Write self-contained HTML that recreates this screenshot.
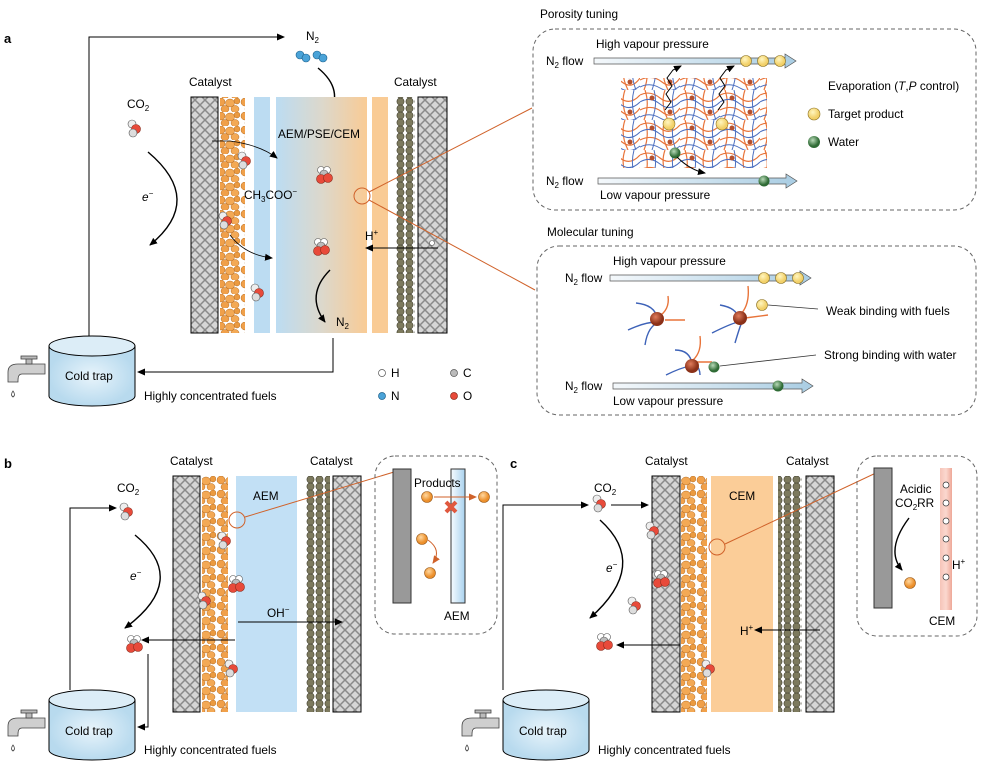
<!DOCTYPE html>
<html><head><meta charset="utf-8"><style>
html,body{margin:0;padding:0;background:#fff}
svg{display:block;font-family:"Liberation Sans",sans-serif}
</style></head><body>
<svg width="983" height="772" viewBox="0 0 983 772" xmlns="http://www.w3.org/2000/svg" font-size="11.8" fill="#000">
<defs>
<pattern id="hatch" width="10" height="10" patternUnits="userSpaceOnUse">
<rect width="10" height="10" fill="#d6d6d6"/>
<path d="M0 5 L5 0 M5 10 L10 5 M5 0 L10 5 M0 5 L5 10" stroke="#8a8a8a" stroke-width="1.5" fill="none"/>
</pattern>
<pattern id="parts" width="24" height="14" patternUnits="userSpaceOnUse">
<rect width="24" height="14" fill="#fff"/>
<ellipse cx="5" cy="4" rx="4" ry="4" fill="#f0a04a" stroke="#b56a20" stroke-width=".5"/>
<ellipse cx="14" cy="5" rx="4.5" ry="4" fill="#f3a955" stroke="#b56a20" stroke-width=".5"/>
<ellipse cx="21" cy="3" rx="3" ry="3" fill="#eb9a40" stroke="#b56a20" stroke-width=".5"/>
<ellipse cx="9" cy="11" rx="4" ry="3.5" fill="#f0a04a" stroke="#b56a20" stroke-width=".5"/>
<ellipse cx="19" cy="11" rx="4" ry="3.5" fill="#f3a955" stroke="#b56a20" stroke-width=".5"/>
</pattern>
<pattern id="balls" width="9" height="7" patternUnits="userSpaceOnUse">
<rect width="9" height="7" fill="#fff"/>
<circle cx="4.5" cy="3.5" r="3.6" fill="#7d7a5e" stroke="#3e3c2a" stroke-width=".6"/>
</pattern>
<pattern id="net" width="40" height="30" patternUnits="userSpaceOnUse">
<path d="M0 5 Q10 0 20 8 T40 5 M0 20 Q12 14 22 22 T40 18 M5 0 Q10 15 4 30 M25 0 Q20 14 28 30" stroke="#e8743a" stroke-width="1.2" fill="none"/>
<path d="M0 12 Q10 6 20 14 T40 12 M0 27 Q10 22 20 28 T40 26 M14 0 Q18 14 12 30 M34 0 Q30 15 36 30" stroke="#4c6fc0" stroke-width="1" fill="none"/>
<circle cx="12" cy="8" r="2.5" fill="#b4502e"/><circle cx="30" cy="22" r="2.5" fill="#b4502e"/>
</pattern>
<linearGradient id="mem" x1="0" x2="1"><stop offset="0" stop-color="#bcdcf2"/><stop offset=".5" stop-color="#dcd8cc"/><stop offset="1" stop-color="#f9cb95"/></linearGradient>
<linearGradient id="flow" x1="0" x2="1"><stop offset="0" stop-color="#f4f8fb"/><stop offset="1" stop-color="#a9cde3"/></linearGradient>
<linearGradient id="aemv" x1="0" x2="1"><stop offset="0" stop-color="#f6fbff"/><stop offset="1" stop-color="#a9d2ee"/></linearGradient>
<linearGradient id="cemv" x1="0" x2="1"><stop offset="0" stop-color="#f6c4b8"/><stop offset=".5" stop-color="#fbd8cf"/><stop offset="1" stop-color="#eea898"/></linearGradient>
<radialGradient id="yel" cx=".4" cy=".35"><stop offset="0" stop-color="#fff6c0"/><stop offset="1" stop-color="#f2d068"/></radialGradient>
<radialGradient id="grn" cx=".4" cy=".35"><stop offset="0" stop-color="#b8dab8"/><stop offset="1" stop-color="#2f6b35"/></radialGradient>
<radialGradient id="org" cx=".4" cy=".35"><stop offset="0" stop-color="#ffd8a0"/><stop offset="1" stop-color="#ec8f2a"/></radialGradient>
<radialGradient id="brn" cx=".4" cy=".35"><stop offset="0" stop-color="#e07c5c"/><stop offset="1" stop-color="#8a3018"/></radialGradient>
<radialGradient id="cyl" cx=".5" cy=".5"><stop offset="0" stop-color="#e8f4fb"/><stop offset="1" stop-color="#b8daee"/></radialGradient>
<marker id="ar" markerWidth="8" markerHeight="8" refX="7" refY="4" orient="auto" markerUnits="userSpaceOnUse"><path d="M0 0.5 L8 4 L0 7.5 Z" fill="#000"/></marker>
<marker id="aro" markerWidth="8" markerHeight="8" refX="7" refY="4" orient="auto" markerUnits="userSpaceOnUse"><path d="M0 0.5 L8 4 L0 7.5 Z" fill="#d0622a"/></marker>
<g id="trap">
<path d="M0 10 L0 60 A43 10 0 0 0 86 60 L86 10" fill="url(#cyl)" stroke="#000" stroke-width="1"/>
<ellipse cx="43" cy="10" rx="43" ry="10" fill="#dcedf7" stroke="#000"/>
</g>
<g id="tap">
<path d="M0 14 Q0 6 10 6 L37 6 L37 16 L14 16 Q10 16 10 22 L10 24 L0 24 Z" fill="#cfcfcf" stroke="#444" stroke-width=".8"/>
<rect x="18" y="0" width="6" height="6" fill="#bbb" stroke="#444" stroke-width=".8"/>
<rect x="13" y="-2" width="16" height="3" fill="#bbb" stroke="#444" stroke-width=".8"/>
<path d="M5 33 q3 4 0 6 q-3 -2 0 -6z" fill="#fff" stroke="#444" stroke-width=".8"/>
</g>
<g id="mol"><circle cx="-3" cy="-4" r="4" fill="#eee" stroke="#555" stroke-width=".6"/><circle cx="1" cy="1" r="4.5" fill="#e84a3a" stroke="#8a2a1a" stroke-width=".6"/><circle cx="-2" cy="5" r="4" fill="#ddd" stroke="#555" stroke-width=".6"/></g>
<g id="acet"><circle cx="-3" cy="-6" r="3.5" fill="#fff" stroke="#555" stroke-width=".6"/><circle cx="3" cy="-6" r="3.5" fill="#fff" stroke="#555" stroke-width=".6"/><circle cx="0" cy="-2" r="4" fill="#bbb" stroke="#555" stroke-width=".6"/><circle cx="-3" cy="3" r="4.5" fill="#e84a3a" stroke="#8a2a1a" stroke-width=".6"/><circle cx="4" cy="2" r="4.5" fill="#e84a3a" stroke="#8a2a1a" stroke-width=".6"/></g>
</defs>

<!-- ============ PANEL A ============ -->
<text x="4" y="43" font-weight="bold" font-size="13">a</text>
<path d="M89 337 V37 H284" fill="none" stroke="#000" marker-end="url(#ar)"/>
<text x="306" y="40">N<tspan font-size="8" dy="3">2</tspan></text>
<circle cx="300" cy="55" r="4" fill="#4aa3d8" stroke="#1c5f8a" stroke-width=".6"/><circle cx="306" cy="58" r="4" fill="#4aa3d8" stroke="#1c5f8a" stroke-width=".6"/>
<circle cx="317" cy="55" r="4" fill="#4aa3d8" stroke="#1c5f8a" stroke-width=".6"/><circle cx="323" cy="58" r="4" fill="#4aa3d8" stroke="#1c5f8a" stroke-width=".6"/>
<path d="M318 68 Q345 90 328 116" fill="none" stroke="#000" stroke-width="1.4" marker-end="url(#ar)"/>
<text x="189" y="86">Catalyst</text><text x="394" y="86">Catalyst</text>
<text x="127" y="108">CO<tspan font-size="8" dy="3">2</tspan></text>
<use href="#mol" x="135" y="128"/>
<path d="M148 152 Q205 200 150 245" fill="none" stroke="#000" stroke-width="1.4" marker-end="url(#ar)"/>
<text x="142" y="201" font-style="italic">e<tspan font-size="8" dy="-5">−</tspan></text>

<rect x="191" y="97" width="27" height="236" fill="url(#hatch)" stroke="#000"/>
<rect x="220" y="97" width="25" height="236" fill="url(#parts)"/>
<rect x="254" y="97" width="16" height="236" fill="#bcdcf2"/>
<rect x="276" y="97" width="91" height="236" fill="url(#mem)"/>
<rect x="372" y="97" width="16" height="236" fill="#f9cb95"/>
<rect x="396" y="97" width="19" height="236" fill="url(#balls)"/>
<rect x="418" y="97" width="29" height="236" fill="url(#hatch)" stroke="#000"/>
<text x="278" y="138">AEM/PSE/CEM</text>
<use href="#mol" x="245" y="160"/><use href="#mol" x="226" y="220"/><use href="#mol" x="258" y="292"/>
<path d="M212 141 H230 Q260 145 277 158" fill="none" stroke="#000" stroke-width=".8" marker-end="url(#ar)"/>
<path d="M230 235 Q245 255 272 258" fill="none" stroke="#000" stroke-width=".8" marker-end="url(#ar)"/>
<use href="#acet" x="324" y="176"/><use href="#acet" x="321" y="248"/>
<text x="244" y="199">CH<tspan font-size="8" dy="3">3</tspan><tspan dy="-3">COO</tspan><tspan font-size="8" dy="-5">−</tspan></text>
<circle cx="362" cy="196" r="8" fill="none" stroke="#d0622a" stroke-width="1"/>
<path d="M369 192 L532 108 M369 200 L535 290" stroke="#d0622a" stroke-width="1"/>
<text x="365" y="240">H<tspan font-size="8" dy="-5">+</tspan></text>
<path d="M438 248 H366" stroke="#000" marker-end="url(#ar)"/>
<circle cx="432" cy="243" r="2.5" fill="#fff" stroke="#555" stroke-width=".6"/>
<path d="M330 270 Q305 295 325 322" fill="none" stroke="#000" stroke-width="1.4" marker-end="url(#ar)"/>
<text x="336" y="326">N<tspan font-size="8" dy="3">2</tspan></text>
<path d="M333 338 V372 H138" fill="none" stroke="#000" marker-end="url(#ar)"/>
<use href="#trap" x="49" y="336"/>
<text x="65" y="380">Cold trap</text>
<use href="#tap" x="8" y="358"/>
<text x="144" y="400">Highly concentrated fuels</text>
<circle cx="382" cy="373" r="3.5" fill="#fff" stroke="#555" stroke-width=".7"/><text x="391" y="377">H</text>
<circle cx="454" cy="373" r="3.5" fill="#bbb" stroke="#555" stroke-width=".7"/><text x="463" y="377">C</text>
<circle cx="382" cy="396" r="3.5" fill="#4aa3d8" stroke="#1c5f8a" stroke-width=".7"/><text x="391" y="400">N</text>
<circle cx="454" cy="396" r="3.5" fill="#e84a3a" stroke="#8a2a1a" stroke-width=".7"/><text x="463" y="400">O</text>

<!-- porosity -->
<text x="540" y="18">Porosity tuning</text>
<rect x="533" y="29" width="443" height="181" rx="22" fill="none" stroke="#666" stroke-dasharray="4 3"/>
<text x="596" y="48">High vapour pressure</text>
<text x="546" y="65">N<tspan font-size="8" dy="3">2</tspan><tspan dy="-3"> flow</tspan></text>
<path d="M594 58 H785 V54 L796 61 L785 68 V64 H594 Z" fill="url(#flow)" stroke="#555" stroke-width=".7"/>
<circle cx="746" cy="61" r="5.5" fill="url(#yel)" stroke="#8a7020" stroke-width=".6"/><circle cx="763" cy="61" r="5.5" fill="url(#yel)" stroke="#8a7020" stroke-width=".6"/><circle cx="780" cy="61" r="5.5" fill="url(#yel)" stroke="#8a7020" stroke-width=".6"/>
<rect x="621" y="78" width="146" height="90" fill="url(#net)"/>
<circle cx="669" cy="124" r="6" fill="url(#yel)" stroke="#8a7020" stroke-width=".6"/><circle cx="722" cy="124" r="6" fill="url(#yel)" stroke="#8a7020" stroke-width=".6"/>
<circle cx="675" cy="153" r="5.5" fill="url(#grn)"/>
<path d="M665 110 l6 -8 l-5 -8 l6 -8 l-5 -8 l6 -8 l8 -4" fill="none" stroke="#000" marker-end="url(#ar)"/>
<path d="M718 110 l6 -8 l-5 -8 l6 -8 l-5 -8 l6 -8 l8 -4" fill="none" stroke="#000" marker-end="url(#ar)"/>
<path d="M677 157 Q690 170 705 173" fill="none" stroke="#000" marker-end="url(#ar)"/>
<text x="546" y="185">N<tspan font-size="8" dy="3">2</tspan><tspan dy="-3"> flow</tspan></text>
<path d="M598 178 H786 V174 L797 181 L786 188 V184 H598 Z" fill="url(#flow)" stroke="#555" stroke-width=".7"/>
<circle cx="764" cy="181" r="5.5" fill="url(#grn)"/>
<text x="600" y="199">Low vapour pressure</text>
<text x="828" y="90">Evaporation (<tspan font-style="italic">T</tspan>,<tspan font-style="italic">P</tspan> control)</text>
<circle cx="814" cy="114" r="6" fill="url(#yel)" stroke="#8a7020" stroke-width=".6"/><text x="828" y="118">Target product</text>
<circle cx="814" cy="142" r="6" fill="url(#grn)"/><text x="828" y="146">Water</text>

<!-- molecular -->
<text x="547" y="236">Molecular tuning</text>
<rect x="537" y="246" width="439" height="169" rx="22" fill="none" stroke="#666" stroke-dasharray="4 3"/>
<text x="613" y="265">High vapour pressure</text>
<text x="565" y="282">N<tspan font-size="8" dy="3">2</tspan><tspan dy="-3"> flow</tspan></text>
<path d="M610 275 H800 V271 L811 278 L800 285 V281 H610 Z" fill="url(#flow)" stroke="#555" stroke-width=".7"/>
<circle cx="764" cy="278" r="5.5" fill="url(#yel)" stroke="#8a7020" stroke-width=".6"/><circle cx="781" cy="278" r="5.5" fill="url(#yel)" stroke="#8a7020" stroke-width=".6"/><circle cx="798" cy="278" r="5.5" fill="url(#yel)" stroke="#8a7020" stroke-width=".6"/>
<g fill="none" stroke-width="1.4">
<path d="M636 303 Q655 305 657 318 M628 330 Q645 322 657 322 M645 345 Q648 325 660 322" stroke="#3d62b8"/>
<path d="M668 296 Q670 310 658 317 M665 320 L685 320" stroke="#e8743a"/>
<path d="M720 305 Q737 308 738 318 M712 333 Q730 324 738 322 M735 343 Q740 326 742 322" stroke="#3d62b8"/>
<path d="M748 286 Q750 305 740 315 M745 318 L768 315" stroke="#e8743a"/>
<path d="M675 350 Q690 350 692 364 M666 375 Q680 368 690 366 M700 375 Q700 368 695 364" stroke="#3d62b8"/>
<path d="M700 336 Q702 352 693 360 M697 362 L712 362" stroke="#e8743a"/>
</g>
<circle cx="657" cy="319" r="7" fill="url(#brn)"/><circle cx="740" cy="318" r="7" fill="url(#brn)"/><circle cx="692" cy="366" r="7" fill="url(#brn)"/>
<circle cx="762" cy="305" r="5.5" fill="url(#yel)" stroke="#8a7020" stroke-width=".6"/>
<circle cx="714" cy="367" r="5.5" fill="url(#grn)"/>
<path d="M768 305 L818 309 M720 366 L816 355" stroke="#333" stroke-width=".8"/>
<text x="826" y="315">Weak binding with fuels</text>
<text x="824" y="359">Strong binding with water</text>
<text x="565" y="390">N<tspan font-size="8" dy="3">2</tspan><tspan dy="-3"> flow</tspan></text>
<path d="M613 383 H802 V379 L813 386 L802 393 V389 H613 Z" fill="url(#flow)" stroke="#555" stroke-width=".7"/>
<circle cx="778" cy="386" r="5.5" fill="url(#grn)"/>
<text x="613" y="405">Low vapour pressure</text>

<!-- ============ PANEL B ============ -->
<text x="4" y="468" font-weight="bold" font-size="13">b</text>
<text x="170" y="465">Catalyst</text><text x="310" y="465">Catalyst</text>
<text x="117" y="492">CO<tspan font-size="8" dy="3">2</tspan></text>
<use href="#mol" x="127" y="511"/>
<path d="M70 690 V508 H116" fill="none" stroke="#000" marker-end="url(#ar)"/>
<path d="M135 535 Q190 580 125 628" fill="none" stroke="#000" stroke-width="1.4" marker-end="url(#ar)"/>
<text x="130" y="580" font-style="italic">e<tspan font-size="8" dy="-5">−</tspan></text>
<use href="#acet" x="134" y="645"/>
<rect x="173" y="476" width="27" height="236" fill="url(#hatch)" stroke="#000"/>
<rect x="202" y="476" width="26" height="236" fill="url(#parts)"/>
<rect x="236" y="476" width="61" height="236" fill="#c2e0f5"/>
<rect x="306" y="476" width="24" height="236" fill="url(#balls)"/>
<rect x="333" y="476" width="28" height="236" fill="url(#hatch)" stroke="#000"/>
<text x="253" y="500">AEM</text>
<use href="#mol" x="225" y="540"/><use href="#acet" x="236" y="585"/><use href="#mol" x="205" y="600"/><use href="#mol" x="232" y="668"/>
<path d="M235 640 H142" stroke="#000" marker-end="url(#ar)"/>
<text x="267" y="617">OH<tspan font-size="8" dy="-5">−</tspan></text>
<path d="M238 622 H342" stroke="#000" marker-end="url(#ar)"/>
<circle cx="237" cy="520" r="8" fill="none" stroke="#d0622a"/>
<path d="M245 517 L394 472" stroke="#d0622a"/>
<path d="M148 654 V727 H138" fill="none" stroke="#000" marker-end="url(#ar)"/>
<use href="#trap" x="49" y="690"/>
<text x="65" y="735">Cold trap</text>
<use href="#tap" x="8" y="712"/>
<text x="144" y="754">Highly concentrated fuels</text>
<rect x="375" y="456" width="122" height="178" rx="20" fill="none" stroke="#666" stroke-dasharray="4 3"/>
<rect x="393" y="469" width="18" height="134" fill="#999" stroke="#333"/>
<rect x="451" y="469" width="14" height="134" fill="url(#aemv)" stroke="#333"/>
<text x="414" y="487">Products</text>
<circle cx="427" cy="497" r="5.5" fill="url(#org)" stroke="#9a5a1a" stroke-width=".6"/>
<path d="M434 497 H476" stroke="#d0622a" marker-end="url(#aro)"/>
<circle cx="484" cy="497" r="5.5" fill="url(#org)" stroke="#9a5a1a" stroke-width=".6"/>
<path d="M446 502 l10 10 M456 502 l-10 10" stroke="#e0583e" stroke-width="4"/>
<circle cx="422" cy="539" r="5.5" fill="url(#org)" stroke="#9a5a1a" stroke-width=".6"/>
<path d="M428 540 Q442 550 433 563" fill="none" stroke="#d0622a" marker-end="url(#aro)"/>
<circle cx="430" cy="573" r="5.5" fill="url(#org)" stroke="#9a5a1a" stroke-width=".6"/>
<text x="444" y="620">AEM</text>

<!-- ============ PANEL C ============ -->
<text x="510" y="468" font-weight="bold" font-size="13">c</text>
<text x="645" y="465">Catalyst</text><text x="786" y="465">Catalyst</text>
<text x="594" y="492">CO<tspan font-size="8" dy="3">2</tspan></text>
<use href="#mol" x="600" y="503"/>
<path d="M503 690 V505 H588" fill="none" stroke="#000" marker-end="url(#ar)"/>
<path d="M611 505 H648" stroke="#000" marker-end="url(#ar)"/>
<path d="M600 520 Q650 565 590 618" fill="none" stroke="#000" stroke-width="1.4" marker-end="url(#ar)"/>
<text x="606" y="572" font-style="italic">e<tspan font-size="8" dy="-5">−</tspan></text>
<use href="#acet" x="604" y="643"/>
<rect x="652" y="476" width="28" height="236" fill="url(#hatch)" stroke="#000"/>
<rect x="681" y="476" width="26" height="236" fill="url(#parts)"/>
<rect x="711" y="476" width="62" height="236" fill="#fbcd98"/>
<rect x="778" y="476" width="24" height="236" fill="url(#balls)"/>
<rect x="806" y="476" width="28" height="236" fill="url(#hatch)" stroke="#000"/>
<text x="729" y="500">CEM</text>
<use href="#mol" x="653" y="530"/><use href="#acet" x="661" y="580"/><use href="#mol" x="635" y="605"/><use href="#mol" x="709" y="668"/>
<path d="M680 645 H617" stroke="#000" marker-end="url(#ar)"/>
<text x="740" y="635">H<tspan font-size="8" dy="-5">+</tspan></text>
<path d="M820 630 H755" stroke="#000" marker-end="url(#ar)"/>
<circle cx="717" cy="547" r="8" fill="none" stroke="#d0622a"/>
<path d="M725 544 L878 472" stroke="#d0622a"/>
<use href="#trap" x="503" y="690"/>
<text x="519" y="735">Cold trap</text>
<use href="#tap" x="462" y="712"/>
<text x="598" y="754">Highly concentrated fuels</text>
<rect x="857" y="456" width="120" height="180" rx="20" fill="none" stroke="#666" stroke-dasharray="4 3"/>
<rect x="874" y="468" width="18" height="140" fill="#999" stroke="#333"/>
<rect x="940" y="468" width="12" height="142" fill="url(#cemv)"/>
<text x="900" y="493">Acidic</text>
<text x="895" y="507">CO<tspan font-size="8" dy="3">2</tspan><tspan dy="-3">RR</tspan></text>
<g fill="#fff" stroke="#333" stroke-width=".7"><circle cx="946" cy="485" r="3"/><circle cx="946" cy="503" r="3"/><circle cx="946" cy="521" r="3"/><circle cx="946" cy="539" r="3"/><circle cx="946" cy="558" r="3"/><circle cx="946" cy="577" r="3"/></g>
<text x="952" y="569">H<tspan font-size="8" dy="-5">+</tspan></text>
<path d="M909 518 Q885 550 902 570" fill="none" stroke="#000" stroke-width="1.4" marker-end="url(#ar)"/>
<circle cx="910" cy="583" r="5.5" fill="url(#org)" stroke="#9a5a1a" stroke-width=".6"/>
<text x="929" y="625">CEM</text>
</svg>
</body></html>
